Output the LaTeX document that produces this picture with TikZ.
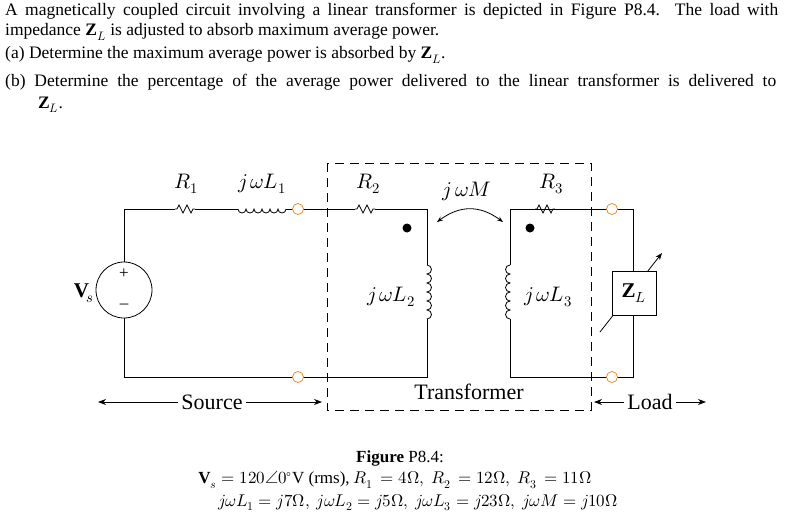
\documentclass[tikz,border=0pt]{standalone}
\usepackage{unicode-math}
\setmainfont{Liberation Serif}
\setmathfont{Latin Modern Math}
\usetikzlibrary{arrows.meta}
\begin{document}
\begin{tikzpicture}[x=1pt,y=-1pt,
  wire/.style={line width=0.8pt},
  term/.style={circle,draw=orange!70!brown,fill=white,inner sep=0pt,minimum size=11pt,line width=0.7pt},
  lbl/.style={font=\fontsize{21}{21}\selectfont},
  txt/.style={font=\fontsize{17.5}{18}\selectfont,anchor=west,inner sep=0pt},
  res/.pic={\draw[wire] (-10,0)--(-8,0)--(-6,-4)--(-2,4)--(2,-4)--(6,4)--(8,0)--(10,0);},
  coilh/.pic={\draw[wire] (-24,0) arc(180:0:4) arc(180:0:4) arc(180:0:4) arc(180:0:4) arc(180:0:4) arc(180:0:4);},
  coilr/.pic={\draw[wire] (0,-27) arc(-90:90:4.5) arc(-90:90:4.5) arc(-90:90:4.5) arc(-90:90:4.5) arc(-90:90:4.5) arc(-90:90:4.5);},
  coill/.pic={\draw[wire] (0,-27) arc(-90:-270:4.5) arc(-90:-270:4.5) arc(-90:-270:4.5) arc(-90:-270:4.5) arc(-90:-270:4.5) arc(-90:-270:4.5);}
]
\useasboundingbox (0,0) rectangle (788,520);
\node[txt] (t1) at (5,11) {\makebox[773pt][s]{A magnetically coupled circuit involving a linear transformer is depicted in Figure P8.4. The load with}};
\node[txt] (t1b) at (5,32) {impedance $\mathbf{Z}_L$ is adjusted to absorb maximum average power.};
\node[txt] (t2) at (5,55) {(a) Determine the maximum average power is absorbed by $\mathbf{Z}_L$.};
\node[txt] (t3) at (5,82) {\makebox[771pt][s]{(b) Determine the percentage of the average power delivered to the linear transformer is delivered to}};
\node[txt] (t3b) at (38,105) {$\mathbf{Z}_L$.};
% dashed box
\draw[dashed,dash pattern=on 9pt off 6pt,line width=0.8pt] (327,163) rectangle (591,410);
% primary source loop
\draw[wire] (124,262)--(124,209)--(175,209);
\pic at (185,209) {res};
\draw[wire] (195,209)--(238,209);
\pic at (262,209) {coilh};
\draw[wire] (286,209)--(298,209);
\draw[wire] (298,209)--(355,209);
\pic at (365,209) {res};
\draw[wire] (375,209)--(427,209)--(427,265);
\pic at (427,292) {coilr};
\draw[wire] (427,319)--(427,377)--(124,377)--(124,318);
\node[circle,draw,line width=0.8pt,minimum size=56pt,inner sep=0pt] (vs) at (124,290) {};
\node[font=\fontsize{17}{17}\selectfont] at (124,274) {+};
\node[font=\fontsize{17}{17}\selectfont] at (124,306) {--};
\node[lbl] at (84,293) {$\mathbf{V}_{\!s}$};
\node[term] (a) at (298,209) {};
\node[term] (b) at (298,377) {};
% secondary
\draw[wire] (633,209)--(535,209);
\pic at (545,209) {res};
\draw[wire] (535,209)--(510,209)--(510,265);
\pic at (510,292) {coill};
\draw[wire] (510,319)--(510,377)--(633,377)--(633,315);
\draw[wire] (633,209)--(633,272);
\node[term] (c) at (612,209) {};
\node[term] (d) at (612,377) {};
\draw[line width=0.8pt,-{Stealth[length=7pt]}] (600,332)--(662,253);
\node[draw,line width=1pt,fill=white,minimum width=44pt,minimum height=44pt,inner sep=0pt,font=\fontsize{21}{21}\selectfont] (zl) at (634,293) {$\mathbf{Z}_L$};
\fill (407,228) circle (4.5);
\fill (530,228) circle (4.5);
\draw[line width=0.8pt,{Stealth[length=6pt]}-{Stealth[length=6pt]}] (437,222) .. controls (460,205) and (480,205) .. (503,222);
\node[lbl] at (186,184) {$R_1$};
\node[lbl] at (262,184) {$j\,\omega L_1$};
\node[lbl] at (368,184) {$R_2$};
\node[lbl] at (467,191) {$j\,\omega M$};
\node[lbl] at (551,184) {$R_3$};
\node[lbl] at (391,297) {$j\,\omega L_2$};
\node[lbl] at (548,297) {$j\,\omega L_3$};
\node[font=\fontsize{22}{22}\selectfont] (src) at (212,402) {Source};
\draw[line width=0.8pt,-{Stealth[length=8pt]}] (src.west)--(98,402);
\draw[line width=0.8pt,-{Stealth[length=8pt]}] (src.east)--(322,402);
\node[font=\fontsize{22}{22}\selectfont] at (469,392) {Transformer};
\node[font=\fontsize{22}{22}\selectfont] (ld) at (650,402) {Load};
\draw[line width=0.8pt,-{Stealth[length=8pt]}] (ld.west)--(594,402);
\draw[line width=0.8pt,-{Stealth[length=8pt]}] (ld.east)--(706,402);
% caption
\node[font=\fontsize{17}{17}\selectfont] at (400,458) {\textbf{Figure} P8.4:};
\node[font=\fontsize{17}{17}\selectfont] at (395,480) {$\mathbf{V}_s=120\angle0^\circ$V (rms), $R_1\,=4\Omega,\ R_2\,=12\Omega,\ R_3\,=11\Omega$};
\node[font=\fontsize{17}{17}\selectfont] at (418,503) {$j\omega L_1=j7\Omega,\ j\omega L_2=j5\Omega,\ j\omega L_3=j23\Omega,\ j\omega M=j10\Omega$};
\end{tikzpicture}
\end{document}
